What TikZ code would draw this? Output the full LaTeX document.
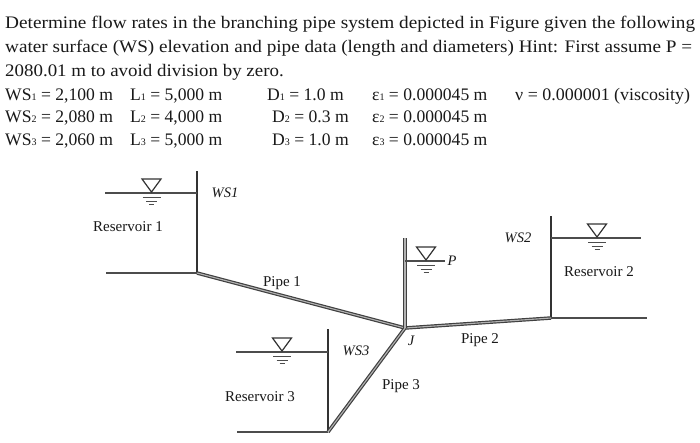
\documentclass[tikz,border=0pt]{standalone}
\usepackage{graphicx}
\usepackage{fontspec}
\setmainfont{Liberation Serif}
\newcommand{\lowidx}[1]{\raisebox{-0.3pt}{\fontsize{10}{10}\selectfont #1}}
\tikzset{
  x=1pt,y=-1pt,
  prose/.style={anchor=base west,inner sep=0pt,text=black!90,font=\fontsize{17.6}{20}\selectfont},
  figlabel/.style={inner sep=0pt,text=black!90,font=\fontsize{15}{16}\selectfont},
  figital/.style={inner sep=0pt,text=black!90,font=\fontsize{14.5}{16}\selectfont\itshape},
  wall/.style={draw=black!80,line width=1.4pt},
  level/.style={draw=black!70,line width=1.1pt},
  floor/.style={draw=black!70,line width=1.5pt},
  pipe/.style={draw=black!75,line width=1.2pt,double=black!30,double distance=1.1pt},
  wsmark/.pic={
    \draw[draw=black!80,line width=1.2pt,line join=miter] (-9.5,-14) -- (9.5,-14) -- (0,-1) -- cycle;
    \draw[black!70,line width=0.9pt] (-9,4) -- (9,4) (-5.5,8) -- (5.5,8) (-2.5,11.5) -- (2.5,11.5);
  }
}
\begin{document}
\begin{tikzpicture}
\useasboundingbox (0,0) rectangle (700,442);
\fill[white] (0,0) rectangle (700,442);
% prose
\node[prose] (t1) at (5,28) {\scalebox{1.095}[1]{Determine flow rates in the branching pipe system depicted in Figure given the following}};
\node[prose] (t2) at (5,52) {\scalebox{1.09}[1]{water surface (WS) elevation and pipe data (length and diameters) Hint: First assume P =}};
\node[prose] (t3) at (5,76) {\scalebox{1.075}[1]{2080.01 m to avoid division by zero.}};
\node[prose] (a1) at (5,100) {WS\lowidx{1} = 2,100 m};
\node[prose] (a2) at (5,122) {WS\lowidx{2} = 2,080 m};
\node[prose] (a3) at (5,145) {WS\lowidx{3} = 2,060 m};
\node[prose] (b1) at (130,100) {L\lowidx{1} = 5,000 m};
\node[prose] (b2) at (130,122) {L\lowidx{2} = 4,000 m};
\node[prose] (b3) at (130,145) {L\lowidx{3} = 5,000 m};
\node[prose] (c1) at (267,100) {D\lowidx{1} = 1.0 m};
\node[prose] (c2) at (272,122) {D\lowidx{2} = 0.3 m};
\node[prose] (c3) at (272,145) {D\lowidx{3} = 1.0 m};
\node[prose] (d1) at (372,100) {ε\lowidx{1} = 0.000045 m};
\node[prose] (d2) at (372,122) {ε\lowidx{2} = 0.000045 m};
\node[prose] (d3) at (372,145) {ε\lowidx{3} = 0.000045 m};
\node[prose] (e1) at (515,100) {\scalebox{1.02}[1]{ν = 0.000001 (viscosity)}};
% key points
\coordinate (J) at (405,328);
\coordinate (R1top) at (197,171);
\coordinate (R1wl) at (197,193);
\coordinate (R1base) at (197,273);
\coordinate (R1wlend) at (105,193);
\coordinate (R1floor) at (106,273);
\coordinate (R2top) at (551,216);
\coordinate (R2wl) at (551,238);
\coordinate (R2base) at (551,318);
\coordinate (R2wlend) at (641,238);
\coordinate (R2floor) at (647,318);
\coordinate (R3top) at (328,329);
\coordinate (R3wl) at (328,352);
\coordinate (R3base) at (328,432);
\coordinate (R3wlend) at (236,352);
\coordinate (R3floor) at (237,432);
\coordinate (Ptop) at (405,238);
\coordinate (Pwl) at (405,261);
\coordinate (Pwlend) at (445,261);
% reservoirs
\draw[wall] (R1top) -- (R1base);
\draw[level] (R1wlend) -- (R1wl);
\draw[floor] (R1floor) -- (R1base);
\draw[wall] (R2top) -- (R2base);
\draw[level] (R2wl) -- (R2wlend);
\draw[floor] (R2base) -- (R2floor);
\draw[wall] (R3top) -- (R3base);
\draw[level] (R3wlend) -- (R3wl);
\draw[floor] (R3floor) -- (R3base);
% pipes
\draw[pipe] (R1base) -- (J);
\draw[pipe] (J) -- (R2base);
\draw[pipe] (R3base) -- (J);
\draw[pipe] (Ptop) -- (J);
\draw[level] (Pwl) -- (Pwlend);
% symbols
\pic at (151.5,193) {wsmark};
\pic at (597,238) {wsmark};
\pic at (282,352) {wsmark};
\pic at (426,261) {wsmark};
% labels
\node[figital] (ws1) at (225,193) {WS1};
\node[figital] (ws2) at (518,238) {WS2};
\node[figital] (ws3) at (356,351) {WS3};
\node[figital] (p) at (452,261) {P};
\node[figital] (j) at (411,341) {J};
\node[figlabel] (r1) at (128,227) {Reservoir 1};
\node[figlabel] (r2) at (599,272) {Reservoir 2};
\node[figlabel] (r3) at (260,397) {Reservoir 3};
\node[figlabel] (p1) at (282,283) {Pipe 1};
\node[figlabel] (p2) at (480,340) {Pipe 2};
\node[figlabel] (p3) at (401,386) {Pipe 3};
\end{tikzpicture}
\end{document}
